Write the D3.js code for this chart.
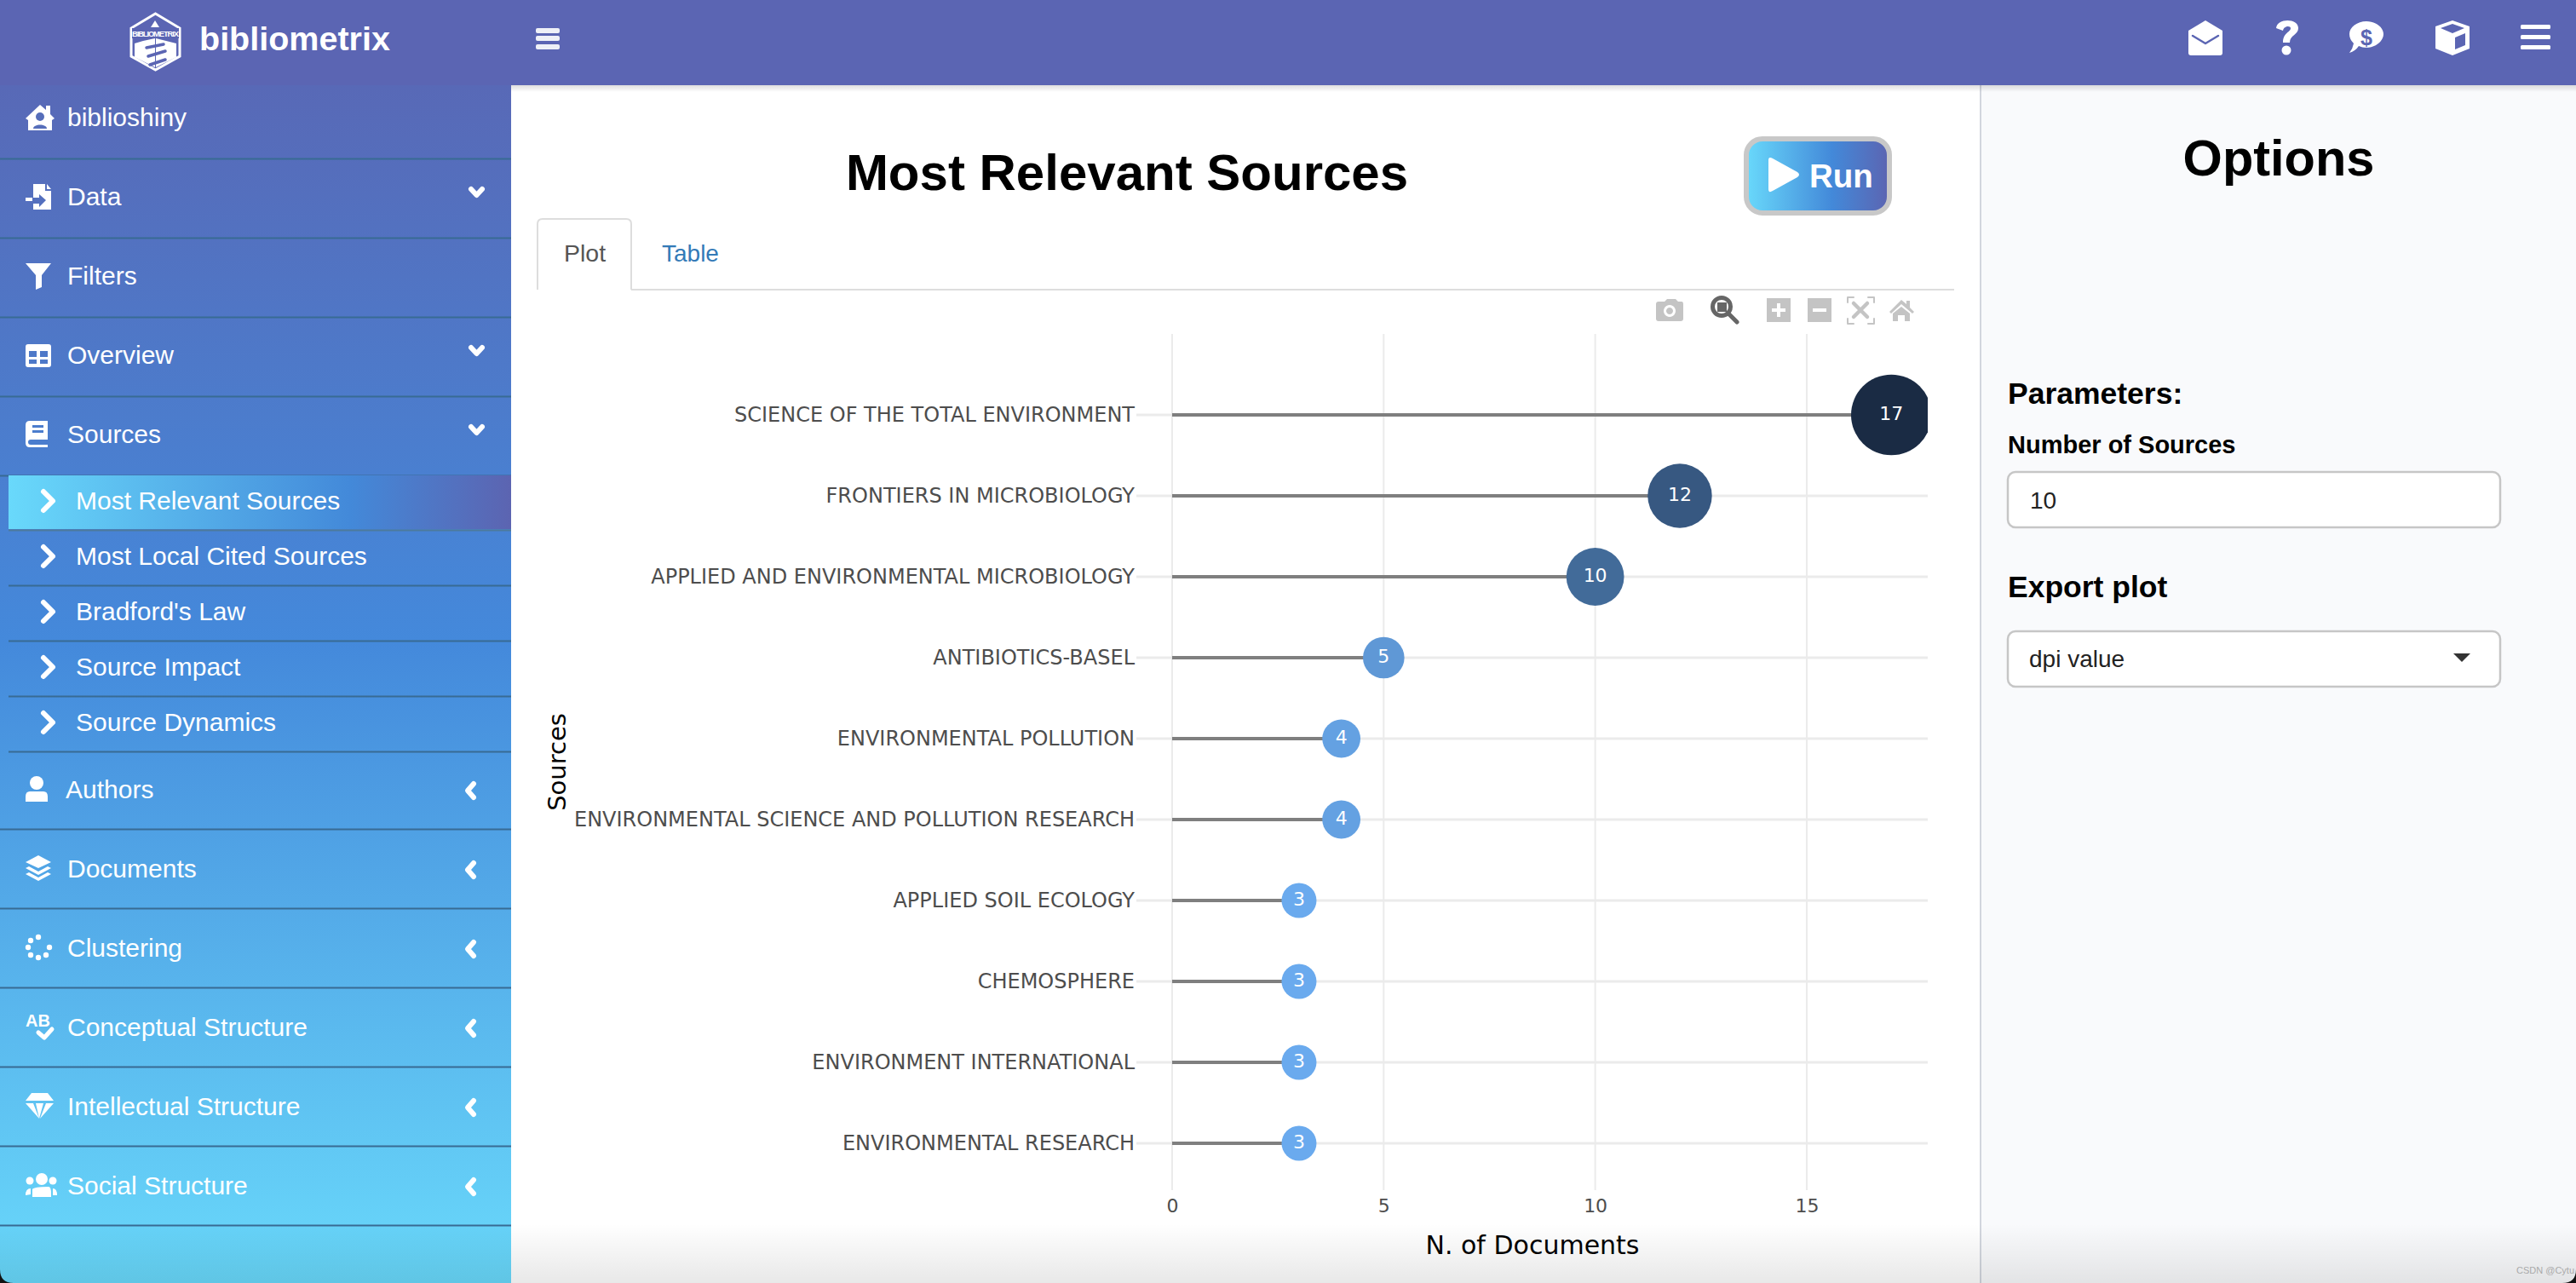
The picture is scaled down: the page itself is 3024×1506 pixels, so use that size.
<!DOCTYPE html>
<html>
<head>
<meta charset="utf-8">
<title>Most Relevant Sources</title>
<script src="https://d3js.org/d3.v7.min.js"></script>
<style>
  html, body { margin: 0; padding: 0; background: #fff; overflow: hidden; }
  svg { display: block; }
  text { font-family: "Liberation Sans", Arial, sans-serif; }
  .chart text { font-family: "DejaVu Sans", Verdana, sans-serif; }
</style>
</head>
<body>
<div id="page"></div>
<script>
// chart data
var sources = [
    "SCIENCE OF THE TOTAL ENVIRONMENT",
    "FRONTIERS IN MICROBIOLOGY",
    "APPLIED AND ENVIRONMENTAL MICROBIOLOGY",
    "ANTIBIOTICS-BASEL",
    "ENVIRONMENTAL POLLUTION",
    "ENVIRONMENTAL SCIENCE AND POLLUTION RESEARCH",
    "APPLIED SOIL ECOLOGY",
    "CHEMOSPHERE",
    "ENVIRONMENT INTERNATIONAL",
    "ENVIRONMENTAL RESEARCH"
];
var documents = [17, 12, 10, 5, 4, 4, 3, 3, 3, 3];
var xTicks = [0, 5, 10, 15];

// sidebar text
var navTop = ["biblioshiny", "Data", "Filters", "Overview", "Sources"];
var navSub = ["Most Relevant Sources", "Most Local Cited Sources", "Bradford's Law", "Source Impact", "Source Dynamics"];
var navBottom = ["Authors", "Documents", "Clustering", "Conceptual Structure", "Intellectual Structure", "Social Structure"];

var svg = d3.select("#page").append("svg").attr("width", 3024).attr("height", 1506);
var defs = svg.append("defs");

function gradient(id, x2, y2, stops) {
    var g = defs.append("linearGradient").attr("id", id)
        .attr("x1", 0).attr("y1", 0).attr("x2", x2).attr("y2", y2);
    stops.forEach(s => g.append("stop").attr("offset", s[0]).attr("stop-color", s[1]).attr("stop-opacity", s[2] === undefined ? 1 : s[2]));
}
gradient("sideBg", 0, 1, [[0, "#5b64b1"], [0.5, "#4489db"], [1, "#69d9fb"]]);
gradient("active", 1, 0, [[0, "#69d9fb"], [0.68, "#4389d9"], [1, "#5c64b1"]]);
gradient("runBg", 1, 0, [[0, "#69d9fb"], [0.6, "#4389d9"], [1, "#5c64b1"]]);
gradient("headShadow", 0, 1, [[0, "#000", 0.13], [1, "#000", 0]]);
gradient("bottomShade", 0, 1, [[0, "#000", 0], [1, "#000", 0.09]]);

function rect(parent, x, y, w, h, fill) {
    return parent.append("rect").attr("x", x).attr("y", y).attr("width", w).attr("height", h).attr("fill", fill);
}
function label(parent, x, y, txt, size, weight, fill, anchor) {
    return parent.append("text").attr("x", x).attr("y", y).text(txt)
        .attr("font-size", size).attr("font-weight", weight || "normal")
        .attr("fill", fill || "#000").attr("text-anchor", anchor || "start");
}
// icon drawn from a path in its own local coordinates
function icon(parent, x, y, d, fill) {
    return parent.append("path").attr("transform", `translate(${x},${y})`).attr("d", d)
        .attr("fill", fill || "#fff").attr("fill-rule", "evenodd");
}
function stroke(parent, x, y, d, color, width) {
    return parent.append("path").attr("transform", `translate(${x},${y})`).attr("d", d)
        .attr("fill", "none").attr("stroke", color || "#fff").attr("stroke-width", width)
        .attr("stroke-linecap", "round").attr("stroke-linejoin", "round");
}

// page panels
rect(svg, 0, 0, 3024, 1506, "#fff");
rect(svg, 0, 0, 600, 1506, "url(#sideBg)");
rect(svg, 2326, 100, 698, 1406, "#f9fafc");
rect(svg, 2324, 100, 2, 1406, "#d2d6de");
rect(svg, 600, 100, 2424, 8, "url(#headShadow)");
rect(svg, 0, 0, 3024, 100, "#5b65b3");

// sidebar rows
var side = svg.append("g");
var sepColor = "#386b93";
navTop.forEach((t, i) => {
    label(side, 79, 148 + 93 * i, t, 30, "normal", "#fff");
    rect(side, 0, 185.5 + 93 * i, 600, 2, sepColor);
});
rect(side, 10, 558, 590, 63, "url(#active)");
navSub.forEach((t, i) => {
    label(side, 89, 598 + 65 * i, t, 30, "normal", "#fff");
    stroke(side, 51, 577 + 65 * i, "M0,0L11,11L0,22", "#fff", 6);
    rect(side, 10, 621.5 + 65 * i, 590, 2, i == 0 ? "#4c7a9c" : sepColor);
});
navBottom.forEach((t, i) => {
    label(side, i == 0 ? 77 : 79, 937 + 93 * i, t, 30, "normal", "#fff");
    stroke(side, 556, 920 + 93 * i, "M0,0L-7,8L0,16", "#fff", 6);
    rect(side, 0, 972.5 + 93 * i, 600, 2, sepColor);
});
stroke(side, 553, 222 , "M0,0L6.5,7L13,0", "#fff", 6);
stroke(side, 553, 408 , "M0,0L6.5,7L13,0", "#fff", 6);
stroke(side, 553, 501 , "M0,0L6.5,7L13,0", "#fff", 6);

// sidebar icons
var bg = "#566eba";
icon(side, 30, 123, "M17,0L24,6V1H29V11L34,16L31,18V30H3V18L0,16Z");
side.append("circle").attr("cx", 47).attr("cy", 137).attr("r", 5).attr("fill", bg);
icon(side, 37, 144, "M2,7C2,1 18,1 18,7Z", bg);
icon(side, 30, 216, "M9,0H23V8H30V30H9V23H16V27L24,19L16,12V16H9ZM25,0L30,6H25ZM0,16H8V20H0Z");
icon(side, 30, 309, "M0,0H30L19,14V28L12,31V14Z");
icon(side, 30, 404, "M3,0H27Q30,0 30,3V24Q30,27 27,27H3Q0,27 0,24V3Q0,0 3,0ZM4,8V15H13V8ZM17,8V15H26V8ZM4,18V23H13V18ZM17,18V23H26V18Z");
icon(side, 30, 494, "M5,0H26V22H6Q3,22 3,25T6,28H26V31H5Q0,31 0,26V5Q0,0 5,0ZM8,5V8H21V5ZM8,11V14H21V11Z");
side.append("circle").attr("cx", 43).attr("cy", 919).attr("r", 8).attr("fill", "#fff");
icon(side, 30, 929, "M5,0H21Q26,0 26,6V12H0V6Q0,0 5,0Z");
icon(side, 30, 1004, "M15,0L30,8L15,15L0,8ZM0,15L4,13L15,19L26,13L30,15L15,23ZM0,22L4,20L15,26L26,20L30,22L15,30Z");
[[15, 3], [28, 15], [24, 24], [15, 27], [6, 24], [3, 15], [6, 7]].forEach(p => {
    side.append("circle").attr("cx", 30 + p[0]).attr("cy", 1097 + p[1]).attr("r", 3.2).attr("fill", "#fff");
});
label(side, 30, 1205, "AB", 20, "bold", "#fff");
stroke(side, 45, 1208, "M0,4L7,10L16,0", "#fff", 5);
icon(side, 30, 1283, "M7,0H26L33,9H0ZM0,12H9L16,30ZM12,12H21L16,30ZM24,12H33L17,30Z");
side.append("circle").attr("cx", 49).attr("cy", 1384).attr("r", 7).attr("fill", "#fff");
side.append("circle").attr("cx", 35).attr("cy", 1386).attr("r", 4.5).attr("fill", "#fff");
side.append("circle").attr("cx", 62).attr("cy", 1386).attr("r", 4.5).attr("fill", "#fff");
icon(side, 30, 1393, "M8,3Q10,0 27,0Q30,0 30,8V12H8ZM0,10Q0,2 6,2V8L6,9ZM32,2Q37,2 37,10H32Z");

// header
var head = svg.append("g");
head.append("path").attr("d", "M182.5,16L211,33V66L182.5,82L154,66V33Z").attr("fill", "none").attr("stroke", "#fff").attr("stroke-width", 3);
icon(head, 158, 45, "M0,6L10,3L24,0V34L24,34L0,22Z");
icon(head, 183, 45, "M0,0L24,6V22L0,34Z");
rect(head, 155, 33, 55, 12, "#5b65b3");
label(head, 155, 43, "BIBLIOMETRIX", 9.4, "bold", "#fff").attr("textLength", 55);
icon(head, 176, 24, "M6,0L11,8H1Z");
stroke(head, 172, 52, "M0,4L20,0M2,14L22,8M4,24L22,18", "#5b65b3", 3.5);
label(head, 234, 59, "bibliometrix", 39.5, "bold", "#fff");
[33, 42, 52].forEach(yy => rect(head, 629, yy, 28, 6, "#eef0f7").attr("rx", 2));
icon(head, 2569, 24, "M20,0L40,12V38Q40,41 37,41H3Q0,41 0,38V12Z");
stroke(head, 2574, 42, "M0,0L15,9L30,0", "#5b65b3", 2.5);
icon(head, 2671, 24, "M1,9C2,-3 27,-3 27,9C27,17 17,17 17,26H9C9,14 18,14 18,9C18,6 10,6 9,12Z");
head.append("circle").attr("cx", 2684).attr("cy", 59).attr("r", 5.5).attr("fill", "#fff");
icon(head, 2758, 25, "M20,0C31,0 40,7 40,15S31,31 20,31Q15,31 11,29Q7,35 0,37Q4,32 5,26Q0,21 0,15C0,7 9,0 20,0Z");
label(head, 2778, 53, "$", 25, "bold", "#5b65b3", "middle");
icon(head, 2859, 24, "M20,0L40,7V33L20,41L0,33V7ZM6,9L20,15L34,9L20,4ZM23,20V34L35,29V15Z");
[29, 41, 53].forEach(yy => rect(head, 2959, yy, 35, 5, "#fff").attr("rx", 1.5));

// page title, run button, tabs
label(svg, 1323, 223, "Most Relevant Sources", 60, "bold", "#000", "middle");
svg.append("rect").attr("x", 2050).attr("y", 163).attr("width", 168).attr("height", 87).attr("rx", 19)
    .attr("fill", "url(#runBg)").attr("stroke", "#c8c8c8").attr("stroke-width", 6);
icon(svg, 2076, 185, "M0,3Q0,-2 5,1L34,17Q38,20 34,23L5,39Q0,42 0,37Z");
label(svg, 2124, 220, "Run", 38.5, "bold", "#fff");

svg.append("path").attr("d", "M631,340V263Q631,257 637,257H735Q741,257 741,263V340").attr("fill", "#fff").attr("stroke", "#ddd").attr("stroke-width", 2);
rect(svg, 741, 339, 1553, 2, "#ddd");
label(svg, 662, 307, "Plot", 28.5, "normal", "#555");
label(svg, 777, 307, "Table", 28, "normal", "#337ab7");

// plotly modebar
var bar = svg.append("g");
var grey = "#c4c4c4";
icon(bar, 1944, 351, "M10,3L13,0H23L26,3H30Q32,3 32,6V23Q32,26 29,26H3Q0,26 0,23V6Q0,3 3,3ZM16,7A7,7 0 1 0 16.01,7ZM16,10A4,4 0 1 1 15.99,10Z", grey);
bar.append("circle").attr("cx", 2021).attr("cy", 360).attr("r", 10.5).attr("fill", "none").attr("stroke", "#666").attr("stroke-width", 5);
rect(bar, 2016, 355, 11, 11, "#666");
stroke(bar, 2030, 369, "M0,0L9,9", "#666", 5);
icon(bar, 2074, 350, "M0,0H28V28H0ZM12,6V12H6V16H12V22H16V16H22V12H16V6Z", grey);
icon(bar, 2122, 350, "M0,0H28V28H0ZM6,12V16H22V12Z", grey);
stroke(bar, 2169, 349, "M0,6V0H7M24,0H31V6M31,25V31H24M7,31H0V25", grey, 2);
stroke(bar, 2176, 356, "M0,0L16,16M16,0L0,16", grey, 4.5);
icon(bar, 2218, 352, "M14,0L20,5V1H24V9L29,14L27,16L14,5L2,16L0,14ZM14,8L24,16V25H18V18H10V25H4V16Z", grey);

// options panel
var opts = svg.append("g");
label(opts, 2675, 206, "Options", 59.5, "bold", "#000", "middle");
label(opts, 2357, 474, "Parameters:", 35.5, "bold");
label(opts, 2357, 532, "Number of Sources", 29, "bold");
label(opts, 2357, 701, "Export plot", 35.5, "bold");
[[2357, 554], [2357, 741]].forEach(p => {
    opts.append("rect").attr("x", p[0]).attr("y", p[1]).attr("width", 578).attr("height", 65).attr("rx", 9)
        .attr("fill", "#fff").attr("stroke", "#c6c6c6").attr("stroke-width", 2.5);
});
label(opts, 2383, 597, "10", 28, "normal", "#222");
label(opts, 2382, 783, "dpi value", 28, "normal", "#222");
icon(opts, 2880, 767, "M0,0H20L10,10Z", "#333");

// lollipop chart
var x = d3.scaleLinear().domain([-0.845, 17.86]).range([1334, 2263]);
var y = d3.scalePoint().domain(sources).range([487, 1342]);
var r = d3.scaleLinear().domain([3, 17]).range([20.5, 47.3]);
var color = d3.scaleLinear().domain([3, 17]).range(["#6aaaee", "#1a2b44"]);
var plotTop = 392, plotBottom = 1397;

defs.append("clipPath").attr("id", "plotClip").append("rect")
    .attr("x", x.range()[0]).attr("y", plotTop)
    .attr("width", x.range()[1] - x.range()[0]).attr("height", plotBottom - plotTop);

var chart = svg.append("g").attr("class", "chart");

chart.selectAll(".vgrid").data(xTicks).join("line").attr("class", "vgrid")
    .attr("x1", d => x(d)).attr("x2", d => x(d)).attr("y1", plotTop).attr("y2", plotBottom)
    .attr("stroke", "#ebebeb").attr("stroke-width", 2);
chart.selectAll(".hgrid").data(sources).join("line").attr("class", "hgrid")
    .attr("x1", x.range()[0]).attr("x2", x.range()[1]).attr("y1", d => y(d)).attr("y2", d => y(d))
    .attr("stroke", "#ebebeb").attr("stroke-width", 3);

var xAxis = chart.append("g").attr("transform", `translate(0,${plotBottom})`)
    .call(d3.axisBottom(x).tickValues(xTicks).tickSize(0).tickPadding(10));
var yAxis = chart.append("g").attr("transform", `translate(${x.range()[0]},0)`)
    .call(d3.axisLeft(y).tickSize(0).tickPadding(2));
[xAxis, yAxis].forEach(a => {
    a.select(".domain").remove();
    a.selectAll("text").attr("font-family", "DejaVu Sans").attr("fill", "#4d4d4d");
});
xAxis.selectAll("text").attr("font-size", 22);
yAxis.selectAll("text").attr("font-size", 24);

var marks = chart.append("g").attr("clip-path", "url(#plotClip)");
marks.selectAll(".stem").data(documents).join("line").attr("class", "stem")
    .attr("x1", x(0)).attr("x2", d => x(d))
    .attr("y1", (d, i) => y(sources[i])).attr("y2", (d, i) => y(sources[i]))
    .attr("stroke", "#7f7f7f").attr("stroke-width", 4);
marks.selectAll(".dot").data(documents).join("circle").attr("class", "dot")
    .attr("cx", d => x(d)).attr("cy", (d, i) => y(sources[i]))
    .attr("r", d => r(d)).attr("fill", d => color(d));
marks.selectAll(".val").data(documents).join("text").attr("class", "val")
    .attr("x", d => x(d)).attr("y", (d, i) => y(sources[i]) + 6)
    .attr("text-anchor", "middle").attr("font-size", 22).attr("fill", "#fff")
    .text(d => d);

chart.append("text").attr("x", 1799).attr("y", 1472).attr("text-anchor", "middle")
    .attr("font-size", 30).attr("fill", "#000").text("N. of Documents");
chart.append("text").attr("transform", "translate(664,894.5) rotate(-90)").attr("text-anchor", "middle")
    .attr("font-size", 29).attr("fill", "#000").text("Sources");

// shading at the window bottom, rounded corners, watermark
rect(svg, 0, 1436, 3024, 70, "url(#bottomShade)");
label(svg, 2954, 1495, "CSDN @Cytu", 11, "normal", "#aaa");
svg.append("path").attr("d", "M0,1490V1506H16Q0,1506 0,1490ZM3024,1490V1506H3008Q3024,1506 3024,1490Z").attr("fill", "#111");
</script>
</body>
</html>
